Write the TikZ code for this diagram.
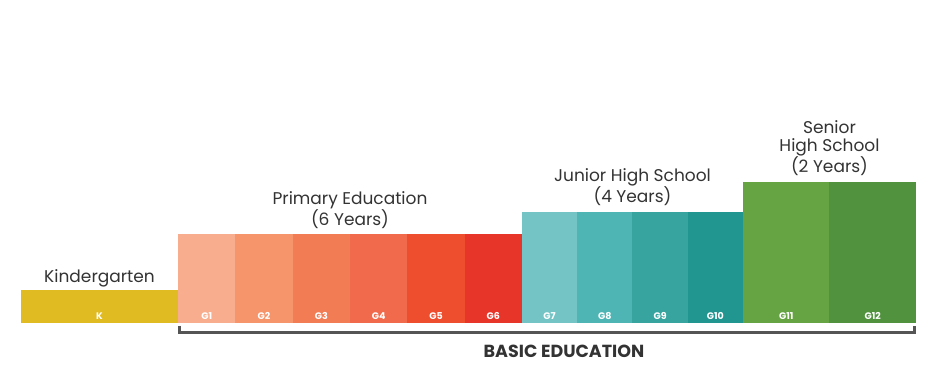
\documentclass[tikz,border=0pt]{standalone}
\usepackage{fontspec}
\setmainfont{Poppins}
\usetikzlibrary{positioning, calc}

\definecolor{ink}{HTML}{333333}
\definecolor{brk}{HTML}{555555}
\definecolor{kg}{HTML}{E1BB22}
\definecolor{g1}{HTML}{F8AD8E}
\definecolor{g2}{HTML}{F6946C}
\definecolor{g3}{HTML}{F27D55}
\definecolor{g4}{HTML}{F06A4B}
\definecolor{g5}{HTML}{EE4D2E}
\definecolor{g6}{HTML}{E8352A}
\definecolor{g7}{HTML}{74C4C6}
\definecolor{g8}{HTML}{4FB5B4}
\definecolor{g9}{HTML}{38A4A0}
\definecolor{g10}{HTML}{219590}
\definecolor{g11}{HTML}{66A342}
\definecolor{g12}{HTML}{51923F}

\begin{document}
\begin{tikzpicture}[
    x=1pt, y=1pt,
    cell/.style={anchor=south west, inner sep=0pt, outer sep=0pt},
    kgcell/.style={cell, minimum width=157pt, minimum height=33pt},
    prim/.style={cell, minimum width=57.33pt, minimum height=89pt},
    jun/.style={cell, minimum width=55.25pt, minimum height=111pt},
    sen/.style={cell, minimum width=86.5pt, minimum height=141pt},
    glabel/.style={font=\fontsize{9.5}{10}\selectfont\bfseries, text=white, inner sep=0pt, above=3pt},
    head/.style={font=\fontsize{17}{18}\selectfont, text=ink, align=center, inner sep=0pt},
    bracket/.style={brk, line width=3pt},
]
\useasboundingbox (0,0) rectangle (940,372);

\node[kgcell, fill=kg, label={[glabel]south:K}] (K) at (21,49) {};

\node[prim, fill=g1, label={[glabel]south:G1}] (G1) at (K.south east) {};
\node[prim, fill=g2, label={[glabel]south:G2}] (G2) at (G1.south east) {};
\node[prim, fill=g3, label={[glabel]south:G3}] (G3) at (G2.south east) {};
\node[prim, fill=g4, label={[glabel]south:G4}] (G4) at (G3.south east) {};
\node[prim, fill=g5, label={[glabel]south:G5}] (G5) at (G4.south east) {};
\node[prim, fill=g6, label={[glabel]south:G6}] (G6) at (G5.south east) {};

\node[jun, fill=g7, label={[glabel]south:G7}] (G7) at (G6.south east) {};
\node[jun, fill=g8, label={[glabel]south:G8}] (G8) at (G7.south east) {};
\node[jun, fill=g9, label={[glabel]south:G9}] (G9) at (G8.south east) {};
\node[jun, fill=g10, label={[glabel]south:G10}] (G10) at (G9.south east) {};

\node[sen, fill=g11, label={[glabel]south:G11}] (G11) at (G10.south east) {};
\node[sen, fill=g12, label={[glabel]south:G12}] (G12) at (G11.south east) {};

\node[head, above=3pt of K.north] (kgtitle) {Kindergarten};
\node[head, above=5pt of G3.north east] (primtitle) {Primary Education\\(6 Years)};
\node[head, above=6pt of G8.north east] (juntitle) {Junior High School\\(4 Years)};
\node[head, above=6pt of G11.north east] (sentitle) {Senior\\High School\\(2 Years)};

\draw[bracket] ($(G1.south west)+(1.5,-3)$) |- ($(G12.south east)+(-1.5,-10)$) -- ++(0,7);

\node[font=\fontsize{17.5}{18}\selectfont\bfseries, text=ink] (basic) at (564,21) {BASIC EDUCATION};

\end{tikzpicture}
\end{document}
